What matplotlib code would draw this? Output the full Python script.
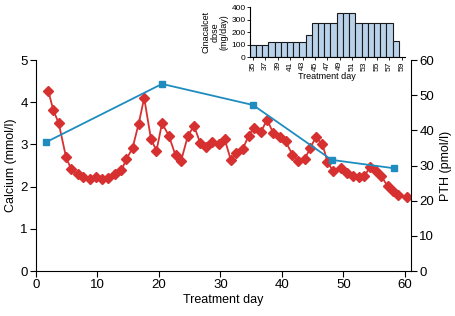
import matplotlib
matplotlib.use("Agg")
import matplotlib.pyplot as plt
import numpy as np

plt.rcParams['font.family'] = ['Liberation Sans', 'DejaVu Sans']

# Calcium series (mmol/l)
ca_day = [2.0, 2.8, 3.7, 4.9, 5.7, 6.8, 7.7, 8.8, 9.8, 10.7, 11.7, 12.8, 13.9, 14.7, 15.7,
          16.7, 17.6, 18.7, 19.6, 20.5, 21.6, 22.7, 23.6, 24.7, 25.7, 26.7, 27.6, 28.7, 29.7,
          30.7, 31.7, 32.6, 33.6, 34.6, 35.5, 36.6, 37.6, 38.6, 39.7, 40.6, 41.7, 42.7, 43.7,
          44.6, 45.5, 46.6, 47.4, 48.3, 49.6, 50.6, 51.5, 52.5, 53.4, 54.3, 55.3, 56.2, 57.2,
          58.1, 58.9, 60.4]
ca_val = [4.27, 3.82, 3.50, 2.69, 2.42, 2.29, 2.22, 2.17, 2.23, 2.17, 2.21, 2.31, 2.39, 2.65,
          2.91, 3.49, 4.10, 3.13, 2.85, 3.50, 3.21, 2.74, 2.61, 3.20, 3.44, 3.04, 2.94, 3.06,
          3.01, 3.12, 2.63, 2.79, 2.88, 3.21, 3.40, 3.30, 3.59, 3.26, 3.18, 3.07, 2.76, 2.61,
          2.65, 2.91, 3.17, 3.00, 2.59, 2.37, 2.45, 2.32, 2.24, 2.22, 2.24, 2.46, 2.38, 2.24,
          2.01, 1.89, 1.79, 1.76]

# PTH series (pmol/l)
pth_day = [1.6, 20.5, 35.3, 48.1, 58.3]
pth_val = [36.6, 53.2, 47.2, 31.6, 29.2]

# Cinacalcet dose (mg/day)
dose_day = list(range(35, 59))
dose_val = [95, 95, 95, 120, 120, 120, 120, 120, 120, 180, 270, 270, 270, 270,
            355, 355, 355, 270, 270, 270, 270, 270, 270, 125]

red = '#d63030'
blue = '#1f8cc0'

fig = plt.figure(figsize=(4.55, 3.16), dpi=100)
ax = fig.add_axes([0.0791, 0.1424, 0.8242, 0.6677])
ax.plot(ca_day, ca_val, color=red, marker='D', markersize=5.5, linewidth=1.3, zorder=3)
ax.set_xlim(0, 61)
ax.set_ylim(0, 5)
ax.set_xticks([0, 10, 20, 30, 40, 50, 60])
ax.set_yticks([0, 1, 2, 3, 4, 5])
ax.spines['top'].set_visible(False)
ax.spines['right'].set_visible(False)
ax.tick_params(direction='out', length=4, labelsize=9.5, width=0.8, pad=2)
ax.set_xlabel('Treatment day', fontsize=9, labelpad=2)
ax.set_ylabel('Calcium (mmol/l)', fontsize=9, labelpad=2)

ax2 = ax.twinx()
ax2.plot(pth_day, pth_val, color=blue, marker='s', markersize=5, linewidth=1.3, zorder=2)
ax2.set_ylim(0, 60)
ax2.set_yticks([0, 10, 20, 30, 40, 50, 60])
ax2.spines['top'].set_visible(False)
ax2.spines['left'].set_visible(False)
ax2.spines['bottom'].set_visible(False)
ax2.tick_params(direction='out', length=4, labelsize=9.5, width=0.8, pad=2)
ax2.set_ylabel('PTH (pmol/l)', fontsize=9, labelpad=4)

# inset
ins = fig.add_axes([0.549, 0.8196, 0.341, 0.158])
ins.bar(dose_day, dose_val, width=1.0, color='#b9d2ea', edgecolor='#1a1a1a', linewidth=0.8)
ins.set_xlim(34.5, 59.5)
ins.set_ylim(0, 400)
ins.set_yticks([0, 100, 200, 300, 400])
ins.set_xticks(list(range(35, 60, 2)))
ins.set_xticklabels([str(d) for d in range(35, 60, 2)], rotation=90)
ins.spines['top'].set_visible(False)
ins.spines['right'].set_visible(False)
ins.tick_params(direction='out', length=2, labelsize=6, width=0.6, pad=1)
ins.set_xlabel('Treatment day', fontsize=6.5, labelpad=1)
ins.set_ylabel('Cinacalcet\ndose\n(mg/day)', fontsize=6.5, labelpad=2, linespacing=1.0)

fig.savefig('out.png', dpi=100)
